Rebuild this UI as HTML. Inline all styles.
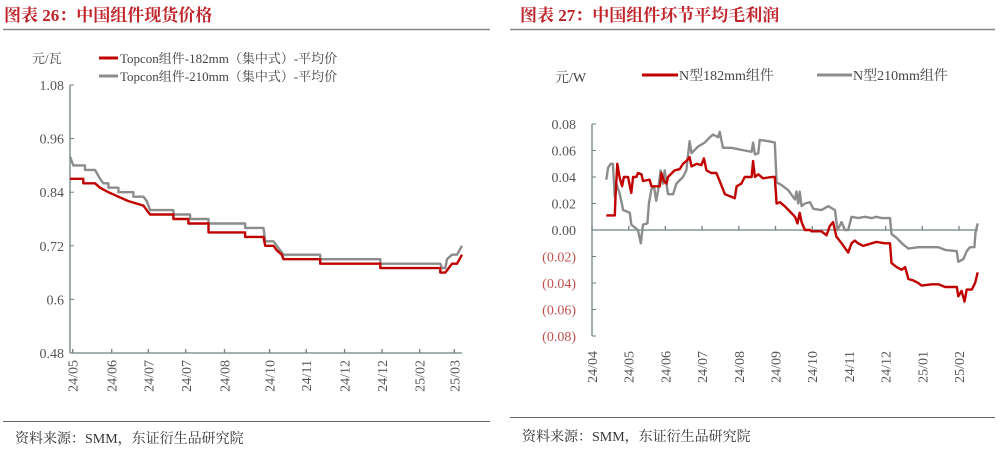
<!DOCTYPE html>
<html><head><meta charset="utf-8">
<style>
body{margin:0;background:#fff;}
svg{display:block;font-family:"Liberation Serif","Noto Serif CJK SC",serif;}
</style></head>
<body>
<svg id="s" width="1000" height="450" viewBox="0 0 1000 450" xmlns="http://www.w3.org/2000/svg">
<text x="4" y="21" font-size="17" font-weight="bold" fill="#c0242b">图表 26：中国组件现货价格</text>
<line x1="3" y1="29.5" x2="490" y2="29.5" stroke="#888" stroke-width="1.5"/>
<text x="520" y="21" font-size="17" font-weight="bold" fill="#c0242b">图表 27：中国组件环节平均毛利润</text>
<line x1="510" y1="29.5" x2="995" y2="29.5" stroke="#888" stroke-width="1.5"/>
<line x1="3" y1="421.5" x2="490" y2="421.5" stroke="#666" stroke-width="1"/>
<line x1="510" y1="417.5" x2="995" y2="417.5" stroke="#666" stroke-width="1"/>
<text x="15" y="443" font-size="14" fill="#333">资料来源：SMM，东证衍生品研究院</text>
<text x="522" y="441" font-size="14" fill="#333">资料来源：SMM，东证衍生品研究院</text>

<text x="32" y="63" font-size="13" fill="#444">元/瓦</text>
<line x1="99" y1="58" x2="118" y2="58" stroke="#c00000" stroke-width="3"/>
<text x="120" y="63" font-size="13" fill="#444">Topcon组件-182mm（集中式）-平均价</text>
<line x1="99" y1="76" x2="118" y2="76" stroke="#8c8c8c" stroke-width="3"/>
<text x="120" y="81" font-size="13" fill="#444">Topcon组件-210mm（集中式）-平均价</text>

<text x="555" y="82" font-size="14" fill="#444">元/W</text>
<line x1="642" y1="75" x2="678" y2="75" stroke="#c00000" stroke-width="3"/>
<text x="679" y="80" font-size="14" fill="#444">N型182mm组件</text>
<line x1="817" y1="75" x2="852" y2="75" stroke="#8c8c8c" stroke-width="3"/>
<text x="853" y="80" font-size="14" fill="#444">N型210mm组件</text>
<g id="L"></g><g id="R"></g>
</svg>
<script>
// ---- Left chart data ----
const leftTickLabels=["24/05","24/06","24/07","24/07","24/08","24/10","24/11","24/12","24/12","25/02","25/03"];
const leftTickPos=[1.6,25,47,69.4,92.6,119.6,141.6,164.6,187,209.6,230.4];
const leftYTicks=[0.48,0.6,0.72,0.84,0.96,1.08];
const red182Idx=[0,8,8,15,18,23,29,35,44,46,48,62,62,71,71,83,83,105,105,116,117,122,124,127,128,150,150,186,186,222,222,225,227,229,232,235];
const red182Val=[.87,.87,.86,.86,.85,.84,.83,.82,.81,.80,.79,.79,.78,.78,.77,.77,.75,.75,.74,.74,.72,.72,.71,.70,.69,.69,.68,.68,.67,.67,.66,.66,.67,.68,.68,.70];
const gray210Idx=[0,2,9,9,15,18,20,23,23,29,29,38,38,44,46,48,62,62,72,72,83,83,105,105,116,117,122,124,128,150,150,186,186,222,223,225,226,229,232,235];
const gray210Val=[.92,.90,.90,.89,.89,.87,.86,.86,.85,.85,.84,.84,.83,.83,.82,.80,.80,.79,.79,.78,.78,.77,.77,.76,.76,.73,.73,.72,.70,.70,.69,.69,.68,.68,.67,.67,.69,.70,.70,.72];
// ---- Right chart data ----
const rightTickLabels=["24/04","24/05","24/06","24/07","24/08","24/09","24/10","24/11","24/12","25/01","25/02"];
const rightYTicks=[-0.08,-0.06,-0.04,-0.02,0,0.02,0.04,0.06,0.08];
const n182M=[.39,.62,.64,.69,.75,.82,.87,.98,1.07,1.12,1.21,1.25,1.35,1.39,1.57,1.62,1.85,1.89,1.96,2.03,2.07,2.25,2.39,2.48,2.57,2.66,2.71,2.85,2.98,3.05,3.12,3.25,3.39,3.48,3.62,3.8,3.89,3.94,4.07,4.16,4.35,4.39,4.44,4.53,4.66,4.89,4.98,5.03,5.12,5.25,5.39,5.53,5.6,5.66,5.71,5.8,5.94,5.98,6.25,6.39,6.48,6.57,6.66,6.8,6.98,7.07,7.16,7.25,7.39,7.62,7.75,7.98,8.12,8.16,8.3,8.44,8.53,8.62,8.75,8.89,8.98,9.25,9.44,9.62,9.94,9.98,10.07,10.15,10.21,10.35,10.44,10.51];
const n182V=[.011,.011,.025,.05,.04,.033,.04,.04,.028,.04,.04,.043,.042,.037,.038,.033,.033,.043,.037,.035,.04,.045,.046,.05,.052,.055,.048,.05,.049,.054,.045,.043,.043,.037,.027,.025,.024,.033,.035,.04,.04,.052,.04,.042,.039,.04,.04,.02,.021,.018,.014,.01,.005,.013,.006,0,0,-.001,-.001,-.004,.003,.006,-.005,-.01,-.017,-.01,-.008,-.01,-.012,-.01,-.009,-.01,-.01,-.025,-.028,-.03,-.028,-.037,-.038,-.04,-.042,-.041,-.041,-.043,-.043,-.05,-.046,-.054,-.045,-.045,-.04,-.032];
const n210M=[.39,.44,.51,.57,.62,.66,.75,.85,.94,1.03,1.07,1.16,1.25,1.33,1.39,1.51,1.55,1.62,1.69,1.75,1.8,1.87,1.94,1.98,2.07,2.21,2.3,2.48,2.57,2.66,2.71,2.89,3.07,3.21,3.3,3.44,3.48,3.57,3.8,3.98,4.16,4.35,4.39,4.44,4.53,4.57,4.8,4.98,5.03,5.16,5.35,5.53,5.57,5.62,5.66,5.71,5.8,5.94,6.03,6.25,6.44,6.62,6.69,6.8,6.89,6.98,7.07,7.25,7.44,7.62,7.75,7.89,8.12,8.16,8.3,8.48,8.62,8.89,9.25,9.44,9.62,9.94,9.98,10.12,10.21,10.3,10.42,10.45,10.51];
const n210V=[.038,.047,.05,.05,.025,.035,.028,.015,.014,.013,.004,.002,0,-.01,.004,.005,.02,.031,.033,.022,.03,.045,.035,.045,.027,.027,.035,.04,.045,.067,.058,.063,.066,.07,.072,.07,.074,.062,.062,.061,.06,.059,.066,.057,.058,.068,.067,.066,.036,.034,.03,.023,.029,.02,.029,.018,.02,.021,.016,.015,.018,.015,0,.006,0,0,.01,.009,.01,.009,.01,.009,.009,-.003,-.006,-.011,-.014,-.013,-.013,-.013,-.015,-.016,-.024,-.022,-.016,-.013,-.013,-.002,.005];

const NS="http://www.w3.org/2000/svg";
function mk(p,tag,a){const e=document.createElementNS(NS,tag);for(const k in a)e.setAttribute(k,a[k]);p.appendChild(e);return e;}
// Left axes
const L=document.getElementById('L');
const lx=i=>70+i*392/235;
const ly=v=>353-(v-0.48)/0.6*268;
const axc="#6f8183";
let e;
e=mk(L,'line',{x1:70,y1:ly(1.08),x2:70,y2:353,stroke:axc,'stroke-width':1.3});


e=mk(L,'line',{x1:70,y1:353,x2:462,y2:353,stroke:axc,'stroke-width':1.3});


leftYTicks.forEach(v=>{
  mk(L,'line',{x1:70,y1:ly(v),x2:74,y2:ly(v),stroke:axc});
  e=mk(L,'text',{x:64,y:ly(v)+5,'text-anchor':'end','font-size':14,fill:'#555'});
  e.textContent=String(v);
  
  
});
leftTickPos.forEach((p,i)=>{
  const x=lx(p);
  mk(L,'line',{x1:x,y1:353,x2:x,y2:349,stroke:axc,'stroke-width':1.3});
  e=mk(L,'text',{x:0,y:0,'text-anchor':'end','font-size':14,fill:'#555',transform:`translate(${x+5},${360}) rotate(-90)`});
  e.textContent=leftTickLabels[i];
  
  
});
function line(p,xs,ys,fx,fy,col,name){
  const d=xs.map((x,i)=>(i?'L':'M')+fx(x).toFixed(1)+','+fy(ys[i]).toFixed(1)).join('');
  const el=mk(p,'path',{d:d,fill:'none',stroke:col,'stroke-width':2.4,'stroke-linejoin':'round'});
  
  
}
line(L,gray210Idx,gray210Val,lx,ly,'#8c8c8c','series-210mm-line');
line(L,red182Idx,red182Val,lx,ly,'#c00000','series-182mm-line');

// Right axes
const R=document.getElementById('R');
const rx=m=>592+m*36.7;
const ry=v=>230-v/0.02*26.5;
e=mk(R,'line',{x1:592,y1:ry(0.08),x2:592,y2:ry(-0.08),stroke:axc,'stroke-width':1.3});


e=mk(R,'line',{x1:592,y1:230,x2:978,y2:230,stroke:axc,'stroke-width':1.3});


rightYTicks.forEach(v=>{
  mk(R,'line',{x1:592,y1:ry(v),x2:596,y2:ry(v),stroke:axc});
  e=mk(R,'text',{x:576,y:ry(v)+5,'text-anchor':'end','font-size':14,fill:v<0?'#c0504d':'#555'});
  e.textContent=v<0?'('+Math.abs(v).toFixed(2)+')':v.toFixed(2);
  
  
});
rightTickLabels.forEach((t,i)=>{
  const x=rx(i);
  mk(R,'line',{x1:x,y1:230,x2:x,y2:226,stroke:axc,'stroke-width':1.3});
  e=mk(R,'text',{x:0,y:0,'text-anchor':'end','font-size':14,fill:'#555',transform:`translate(${x+5},${351}) rotate(-90)`});
  e.textContent=t;
  
  
});
line(R,n210M,n210V,rx,ry,'#8c8c8c','series-n210-line');
line(R,n182M,n182V,rx,ry,'#c00000','series-n182-line');
</script>
</body></html>
